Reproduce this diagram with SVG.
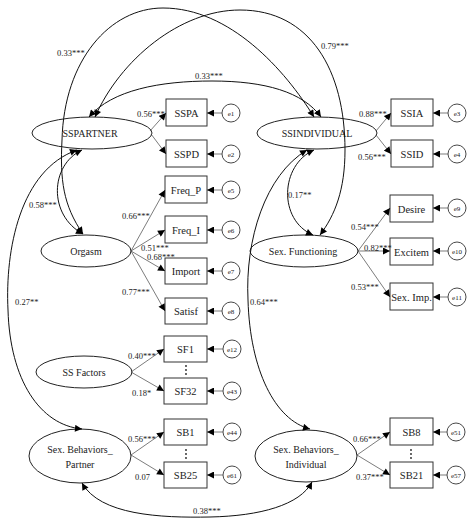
<svg xmlns="http://www.w3.org/2000/svg" width="474" height="524" viewBox="0 0 474 524">
<defs>
<marker id="ah" viewBox="0 0 10 10" refX="10" refY="5" markerWidth="8" markerHeight="7" markerUnits="userSpaceOnUse" orient="auto-start-reverse"><path d="M0,0 L10,5 L0,10 z" fill="#000"/></marker>
<style>
.lat{fill:#fff;stroke:#222;stroke-width:1}
.box{fill:#fff;stroke:#333;stroke-width:1}
.err{fill:#fff;stroke:#333;stroke-width:0.9}
.nt{font-family:"Liberation Serif","DejaVu Serif",serif;font-size:10px;fill:#222;text-anchor:middle}
.bt{font-family:"Liberation Serif","DejaVu Serif",serif;font-size:10.5px;fill:#222;text-anchor:middle}
.et{font-family:"Liberation Serif","DejaVu Serif",serif;font-size:7px;fill:#222;text-anchor:middle}
.lb{font-family:"Liberation Serif","DejaVu Serif",serif;font-size:8.5px;fill:#222}
.cv{fill:none;stroke:#111;stroke-width:1;marker-start:url(#ah);marker-end:url(#ah)}
.ld{fill:none;stroke:#444;stroke-width:0.7;marker-end:url(#ah)}
.el{fill:none;stroke:#444;stroke-width:0.7;marker-end:url(#ah)}
.dot{fill:#222}
</style>
</defs>
<rect width="474" height="524" fill="#fff"/>

<g id="SSPARTNER"><ellipse class="lat" cx="92" cy="133" rx="60" ry="16"/><text class="nt" x="90" y="137">SSPARTNER</text></g>
<g id="SSINDIVIDUAL"><ellipse class="lat" cx="317" cy="133" rx="60" ry="16"/><text class="nt" x="317" y="137">SSINDIVIDUAL</text></g>
<g id="Orgasm"><ellipse class="lat" cx="86" cy="251" rx="45" ry="16"/><text class="nt" x="86" y="255">Orgasm</text></g>
<g id="SexFunctioning"><ellipse class="lat" cx="304" cy="251" rx="54" ry="16"/><text class="nt" x="303" y="255">Sex. Functioning</text></g>
<g id="SSFactors"><ellipse class="lat" cx="84" cy="372" rx="48" ry="16"/><text class="nt" x="84" y="376">SS Factors</text></g>
<g id="SBPartner"><ellipse class="lat" cx="80" cy="456" rx="51" ry="27"/><text class="nt" x="80" y="453">Sex. Behaviors_</text><text class="nt" x="80" y="468">Partner</text></g>
<g id="SBIndividual"><ellipse class="lat" cx="306" cy="456" rx="51" ry="26"/><text class="nt" x="306" y="453">Sex. Behaviors_</text><text class="nt" x="306" y="468">Individual</text></g>

<g id="SSPA"><rect class="box" x="166" y="99" width="41" height="27"/><text class="bt" x="186.5" y="116.5">SSPA</text></g>
<g id="SSPD"><rect class="box" x="166" y="140" width="41" height="27"/><text class="bt" x="186.5" y="157.5">SSPD</text></g>
<g id="SSIA"><rect class="box" x="391" y="99" width="42" height="27"/><text class="bt" x="412" y="116.5">SSIA</text></g>
<g id="SSID"><rect class="box" x="391" y="140" width="42" height="27"/><text class="bt" x="412" y="157.5">SSID</text></g>
<g id="Freq_P"><rect class="box" x="165" y="176" width="42" height="27"/><text class="bt" x="186" y="193.5">Freq_P</text></g>
<g id="Freq_I"><rect class="box" x="165" y="216" width="42" height="27"/><text class="bt" x="186" y="233.5">Freq_I</text></g>
<g id="Import"><rect class="box" x="165" y="258" width="42" height="26"/><text class="bt" x="186" y="275">Import</text></g>
<g id="Satisf"><rect class="box" x="165" y="298" width="42" height="26"/><text class="bt" x="186" y="315">Satisf</text></g>
<g id="SF1"><rect class="box" x="164" y="336" width="43" height="26"/><text class="bt" x="185.5" y="353">SF1</text></g>
<g id="SF32"><rect class="box" x="164" y="378" width="43" height="26"/><text class="bt" x="185.5" y="395">SF32</text></g>
<g id="SB1"><rect class="box" x="164" y="419" width="43" height="26"/><text class="bt" x="185.5" y="436">SB1</text></g>
<g id="SB25"><rect class="box" x="164" y="462" width="43" height="26"/><text class="bt" x="185.5" y="479">SB25</text></g>
<g id="Desire"><rect class="box" x="390" y="195" width="43" height="27"/><text class="bt" x="411.5" y="212.5">Desire</text></g>
<g id="Excitem"><rect class="box" x="390" y="238" width="43" height="27"/><text class="bt" x="411.5" y="255.5">Excitem</text></g>
<g id="SexImp"><rect class="box" x="390" y="283" width="43" height="27"/><text class="bt" x="411.5" y="300.5">Sex. Imp.</text></g>
<g id="SB8"><rect class="box" x="390" y="418" width="43" height="27"/><text class="bt" x="411.5" y="435.5">SB8</text></g>
<g id="SB21"><rect class="box" x="390" y="462" width="43" height="26"/><text class="bt" x="411.5" y="479">SB21</text></g>

<g id="dots">
<circle class="dot" cx="186" cy="366" r="0.9"/><circle class="dot" cx="186" cy="370" r="0.9"/><circle class="dot" cx="186" cy="374" r="0.9"/>
<circle class="dot" cx="186" cy="450" r="0.9"/><circle class="dot" cx="186" cy="454" r="0.9"/><circle class="dot" cx="186" cy="458" r="0.9"/>
<circle class="dot" cx="411" cy="450" r="0.9"/><circle class="dot" cx="411" cy="454" r="0.9"/><circle class="dot" cx="411" cy="458" r="0.9"/>
</g>

<g id="e1"><circle class="err" cx="231" cy="113" r="9"/><text class="et" x="231" y="115.5">e1</text></g>
<g id="e2"><circle class="err" cx="231" cy="154" r="9"/><text class="et" x="231" y="156.5">e2</text></g>
<g id="e3"><circle class="err" cx="457" cy="113" r="9"/><text class="et" x="457" y="115.5">e3</text></g>
<g id="e4"><circle class="err" cx="457" cy="154" r="9"/><text class="et" x="457" y="156.5">e4</text></g>
<g id="e5"><circle class="err" cx="231" cy="190" r="9"/><text class="et" x="231" y="192.5">e5</text></g>
<g id="e6"><circle class="err" cx="231" cy="230" r="9"/><text class="et" x="231" y="232.5">e6</text></g>
<g id="e7"><circle class="err" cx="231" cy="271" r="9"/><text class="et" x="231" y="273.5">e7</text></g>
<g id="e8"><circle class="err" cx="231" cy="311" r="9"/><text class="et" x="231" y="313.5">e8</text></g>
<g id="e12"><circle class="err" cx="232" cy="349" r="9"/><text class="et" x="232" y="351.5">e12</text></g>
<g id="e43"><circle class="err" cx="232" cy="391" r="9"/><text class="et" x="232" y="393.5">e43</text></g>
<g id="e44"><circle class="err" cx="232" cy="432" r="9"/><text class="et" x="232" y="434.5">e44</text></g>
<g id="e61"><circle class="err" cx="232" cy="475" r="9"/><text class="et" x="232" y="477.5">e61</text></g>
<g id="e9"><circle class="err" cx="457" cy="208" r="9"/><text class="et" x="457" y="210.5">e9</text></g>
<g id="e10"><circle class="err" cx="457" cy="251" r="9"/><text class="et" x="457" y="253.5">e10</text></g>
<g id="e11"><circle class="err" cx="457" cy="297" r="9"/><text class="et" x="457" y="299.5">e11</text></g>
<g id="e51"><circle class="err" cx="456" cy="432" r="9"/><text class="et" x="456" y="434.5">e51</text></g>
<g id="e57"><circle class="err" cx="456" cy="475" r="9"/><text class="et" x="456" y="477.5">e57</text></g>

<g id="connectors">
<!-- error arrows -->
<path class="el" d="M222,113 H207"/>
<path class="el" d="M222,154 H207"/>
<path class="el" d="M448,113 H433"/>
<path class="el" d="M448,154 H433"/>
<path class="el" d="M222,190 H207"/>
<path class="el" d="M222,230 H207"/>
<path class="el" d="M222,271 H207"/>
<path class="el" d="M222,311 H207"/>
<path class="el" d="M223,349 H207"/>
<path class="el" d="M223,391 H207"/>
<path class="el" d="M223,432 H207"/>
<path class="el" d="M223,475 H207"/>
<path class="el" d="M448,208 H433"/>
<path class="el" d="M448,251 H433"/>
<path class="el" d="M448,297 H433"/>
<path class="el" d="M447,432 H433"/>
<path class="el" d="M447,475 H433"/>
<!-- loadings -->
<path class="ld" d="M150,131 L166,113"/>
<path class="ld" d="M151,134 L166,154"/>
<path class="ld" d="M376,131 L391,113"/>
<path class="ld" d="M376,135 L391,154"/>
<path class="ld" d="M131,251 L165,190"/>
<path class="ld" d="M131,251 L165,230"/>
<path class="ld" d="M131,251 L165,271"/>
<path class="ld" d="M131,251 L165,311"/>
<path class="ld" d="M358,251 L390,208"/>
<path class="ld" d="M358,251 L390,251"/>
<path class="ld" d="M358,251 L390,297"/>
<path class="ld" d="M131,372 L164,349"/>
<path class="ld" d="M131,372 L164,391"/>
<path class="ld" d="M131,455 L164,432"/>
<path class="ld" d="M131,455 L164,475"/>
<path class="ld" d="M357,455 L390,432"/>
<path class="ld" d="M357,455 L390,475"/>
<!-- covariances -->
<path class="cv" d="M83,234 C63,205 60,180 62,140 C64,60 110,8 163,8 C230,8 285,70 314,117"/>
<path class="cv" d="M95,117 C120,60 180,10 240,10 C310,10 345,70 345,150 C345,190 335,215 320,235"/>
<path class="cv" d="M89,117 C112,90 160,81 212,81 C265,81 303,92 321,117"/>
<path class="cv" d="M82,150 C50,165 48,215 83,234"/>
<path class="cv" d="M77,150 C20,170 5,250 8,310 C10,380 40,425 82,429"/>
<path class="cv" d="M314,150 C280,165 278,220 313,235"/>
<path class="cv" d="M307,150 C265,175 245,240 248,300 C250,370 275,420 310,429"/>
<path class="cv" d="M82,483 C100,515 160,518 210,517 C260,516 300,505 312,482"/>
</g>

<g id="labels">
<text class="lb" x="57" y="56">0.33***</text>
<text class="lb" x="195" y="79">0.33***</text>
<text class="lb" x="321" y="49">0.79***</text>
<text class="lb" x="137" y="117">0.56***</text>
<text class="lb" x="359" y="117">0.88***</text>
<text class="lb" x="358" y="160">0.56***</text>
<text class="lb" x="29" y="208">0.58***</text>
<text class="lb" x="122" y="219">0.66***</text>
<text class="lb" x="141" y="251">0.51***</text>
<text class="lb" x="147" y="260">0.68***</text>
<text class="lb" x="122" y="295">0.77***</text>
<text class="lb" x="288" y="198">0.17**</text>
<text class="lb" x="351" y="230">0.54***</text>
<text class="lb" x="364" y="251">0.82***</text>
<text class="lb" x="351" y="290">0.53***</text>
<text class="lb" x="15" y="305">0.27**</text>
<text class="lb" x="250" y="305">0.64***</text>
<text class="lb" x="128" y="359">0.40***</text>
<text class="lb" x="132" y="396">0.18*</text>
<text class="lb" x="128" y="442">0.56***</text>
<text class="lb" x="135" y="480">0.07</text>
<text class="lb" x="353" y="442">0.66***</text>
<text class="lb" x="356" y="480">0.37***</text>
<text class="lb" x="193" y="514">0.38***</text>
</g>
</svg>
